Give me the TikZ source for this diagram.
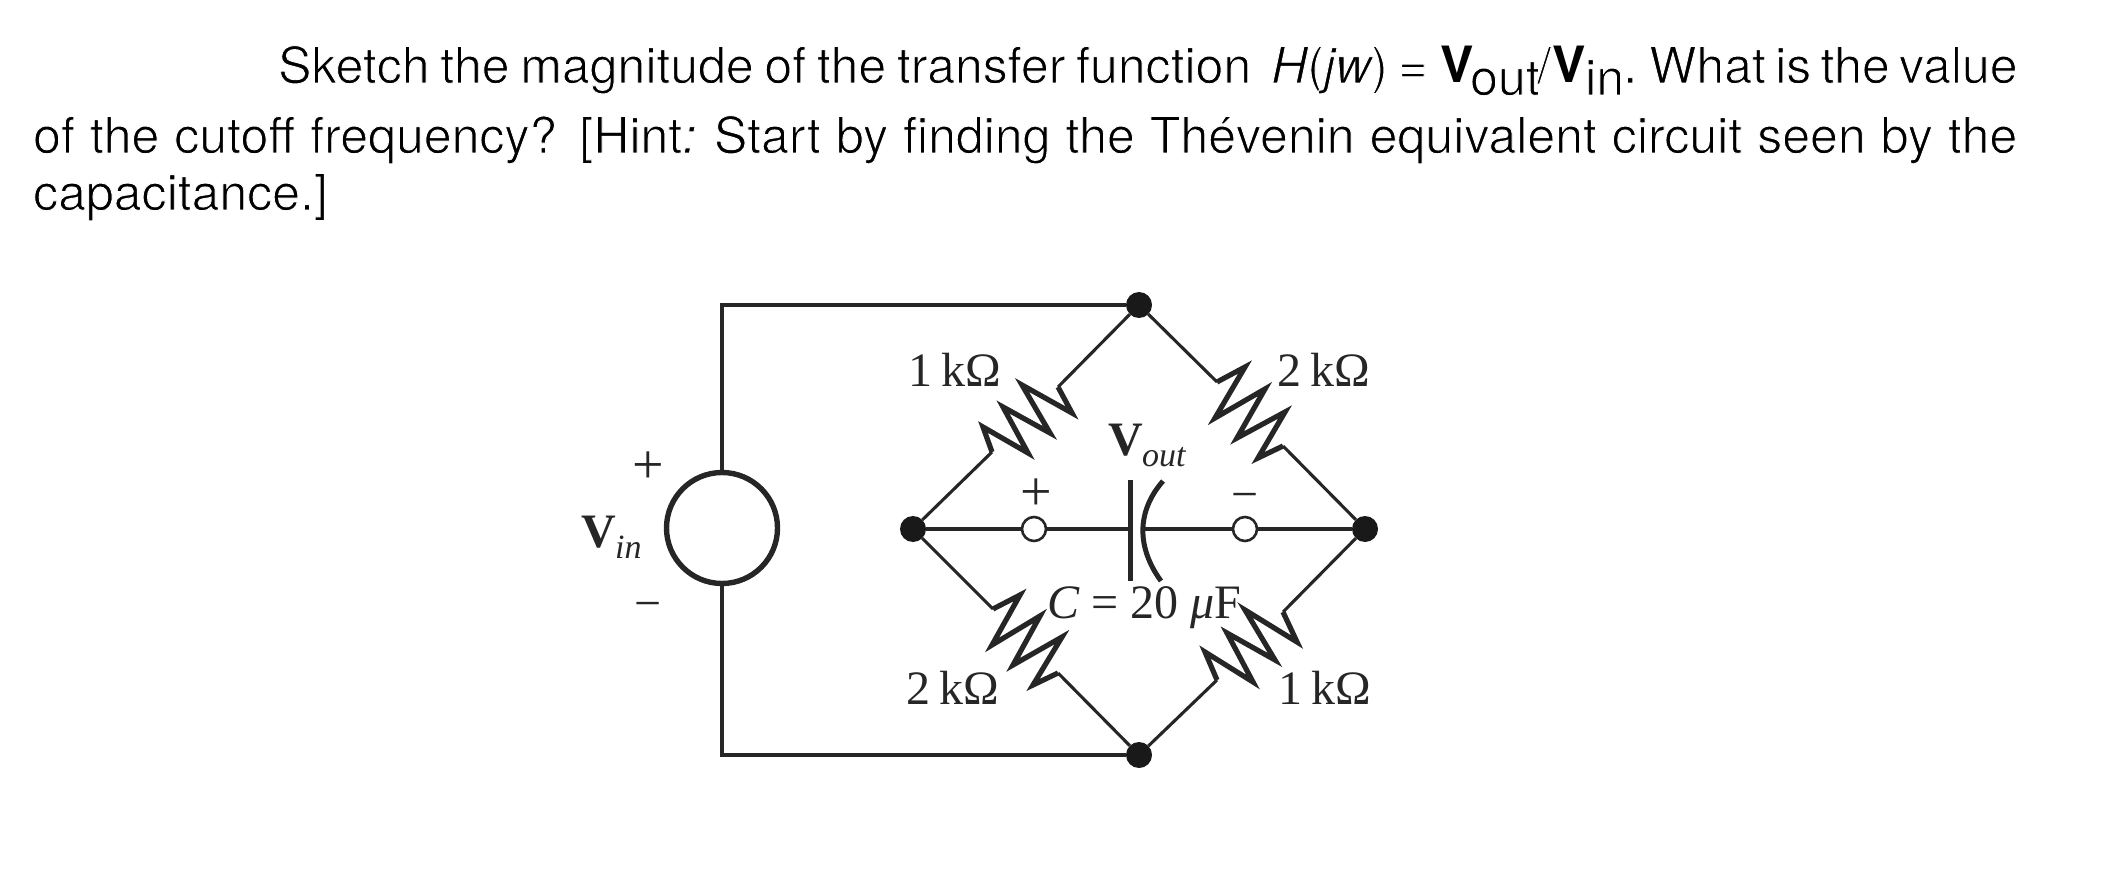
\documentclass[tikz,border=0pt]{standalone}
\usepackage{fontspec}
\setmainfont{Liberation Serif}
\newfontfamily\topfont{TeX Gyre Heros}
\definecolor{ink}{HTML}{262626}
\newcommand{\mysub}[1]{\raisebox{-12pt}{#1}}
\newcommand{\thinon}{\special{pdf:code q 2 Tr 0.9 w 1 1 1 RG}}
\newcommand{\thinoff}{\special{pdf:code Q}}
\newcommand{\seg}[2]{\makebox[#1pt][l]{#2}}
\tikzset{
  x=1pt,y=-1pt,
  wire/.style={draw=ink,line width=3.1pt,line join=miter,line cap=butt},
  res/.style={draw=ink,line width=5.2pt,line join=miter,miter limit=10},
  capplate/.style={draw=ink,line width=5pt},
  dot/.style={circle,fill=black!90,minimum size=26pt,inner sep=0pt},
  opendot/.style={circle,draw=ink,fill=white,line width=2.6pt,minimum size=24pt,inner sep=0pt},
  source/.style={circle,draw=ink,line width=5.4pt,fill=white,minimum size=111pt,inner sep=0pt},
  lab/.style={inner sep=0pt,anchor=base,text=ink,font=\fontsize{48}{48}\selectfont},
  sign/.style={inner sep=0pt,text=ink,font=\fontsize{56}{56}\selectfont},
  dash sign/.style={inner sep=0pt,text=ink,font=\fontsize{48}{48}\selectfont},
  symb/.style={inner sep=0pt,anchor=base west,text=ink,font=\bfseries\fontsize{48}{48}\selectfont},
  subs/.style={inner sep=0pt,anchor=base west,text=ink,font=\itshape\fontsize{34}{34}\selectfont},
  para/.style={inner sep=0pt,anchor=base west,text=black,font=\topfont\fontsize{50}{50}\selectfont}
}
\begin{document}
\begin{tikzpicture}
\useasboundingbox (0,0) rectangle (2101,874);
% question text
\node[para] (l1) at (278,83) {\seg{993}{\thinon\makebox[973pt][s]{Sketch the magnitude of the transfer function}\thinoff}\seg{127}{\thinon{\itshape H}({\itshape jw})\thinoff}\seg{42}{\thinon=\thinoff}\seg{30}{\bfseries V}\seg{67}{\thinon\mysub{out}\thinoff}\seg{15}{\thinon/\thinoff}\seg{33}{\bfseries V}\seg{38}{\thinon\mysub{in}\thinoff}\seg{26}{\thinon.\thinoff}\thinon\makebox[367pt][s]{What is the value}\thinoff};
\node[para] (l2) at (33,153) {\thinon\makebox[1984pt][s]{of the cutoff frequency? [Hint{\itshape :}\kern-3pt{} Start by finding the Thévenin equivalent circuit seen by the}\thinoff};
\node[para] (l3) at (33,210) {\thinon capacitance.]\thinoff};
% junctions
\node[dot] (top) at (1139,305) {};
\node[dot] (left) at (913,529) {};
\node[dot] (right) at (1365,529) {};
\node[dot] (bottom) at (1139,755) {};
\node[opendot] (ol) at (1034,529) {};
\node[opendot] (or) at (1245,529) {};
\node[source] (src) at (722,528) {};
\coordinate (ctl) at (722,305);
\coordinate (cbl) at (722,755);
% source loop
\draw[wire] (src.north) -- (ctl) -- (top);
\draw[wire] (src.south) -- (cbl) -- (bottom);
% capacitor
\coordinate (capa) at (1130,529);
\coordinate (capb) at (1144,529);
\coordinate (pa1) at (1130,480);
\coordinate (pa2) at (1130,581);
\coordinate (pb1) at (1163,481);
\coordinate (pb2) at (1161,581);
\draw[wire] (left) -- (ol);
\draw[wire] (ol) -- (capa);
\draw[wire] (capb) -- (or);
\draw[wire] (or) -- (right);
\draw[capplate] (pa1) -- (pa2);
\draw[capplate] (pb1) .. controls (1136,512) and (1137,548) .. (pb2);
% R top-left
\coordinate (r1a) at (1058,387);
\coordinate (r1b) at (992,452);
\draw[wire] (top) -- (r1a);
\draw[res] (r1a) -- (1072,413) -- (1022,385) -- (1050,433) -- (1003,407) -- (1028,453) -- (983,427) -- (r1b);
\draw[wire] (r1b) -- (left);
% R top-right
\coordinate (r2a) at (1217,382);
\coordinate (r2b) at (1283,446);
\draw[wire] (top) -- (r2a);
\draw[res] (r2a) -- (1245,367) -- (1215,418) -- (1265,389) -- (1237,438) -- (1285,412) -- (1258,458) -- (r2b);
\draw[wire] (r2b) -- (right);
% R bottom-left
\coordinate (r3a) at (993,609);
\coordinate (r3b) at (1058,673);
\draw[wire] (left) -- (r3a);
\draw[res] (r3a) -- (1020,595) -- (992,645) -- (1040,616) -- (1013,665) -- (1062,637) -- (1033,685) -- (r3b);
\draw[wire] (r3b) -- (bottom);
% R bottom-right
\coordinate (r4a) at (1283,612);
\coordinate (r4b) at (1217,680);
\draw[wire] (right) -- (r4a);
\draw[res] (r4a) -- (1297,642) -- (1245,610) -- (1275,660) -- (1227,633) -- (1253,682) -- (1205,652) -- (r4b);
\draw[wire] (r4b) -- (bottom);
% labels
\node[lab] (lr1) at (955,386) {1\kern.2em kΩ};
\node[lab] (lr2) at (1324,386) {2\kern.2em kΩ};
\node[lab] (lr3) at (953,704) {2\kern.2em kΩ};
\node[lab] (lr4) at (1325,704) {1\kern.2em kΩ};
\node[lab] (lc) at (1144,618) {{\itshape C} = 20 {\itshape μ}F};
\node[symb] (vo) at (1108,455) {V};
\node[subs] (vos) at (1142,466) {out};
\node[symb] (vi) at (581,547) {V};
\node[subs] (vis) at (615,558) {in};
\node[sign] (p1) at (648,468) {+};
\node[dash sign] (m1) at (648,611) {−};
\node[sign] (p2) at (1036,495) {+};
\node[dash sign] (m2) at (1245,502) {−};
\end{tikzpicture}
\end{document}
